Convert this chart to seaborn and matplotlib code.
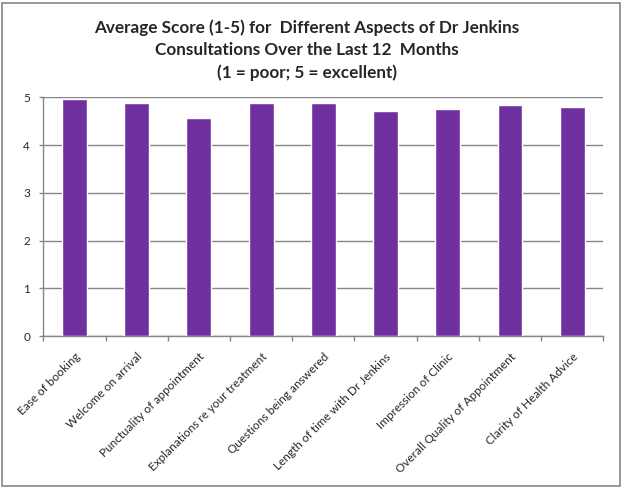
import matplotlib
matplotlib.use("Agg")
import matplotlib.pyplot as plt
import matplotlib.transforms as mtransforms
import seaborn as sns
import pandas as pd
from matplotlib.patches import Rectangle

categories = ["Ease of booking", "Welcome on arrival", "Punctuality of appointment",
              "Explanations re your treatment", "Questions being answered",
              "Length of time with Dr Jenkins", "Impression of Clinic",
              "Overall Quality of Appointment", "Clarity of Health Advice"]
scores = [4.96, 4.88, 4.57, 4.88, 4.88, 4.71, 4.76, 4.84, 4.80]
yticks = [0, 1, 2, 3, 4, 5]
title_lines = ["Average Score (1-5) for  Different Aspects of Dr Jenkins",
               "Consultations Over the Last 12  Months",
               "(1 = poor; 5 = excellent)"]

sns.set_style("white")
plt.rcParams['font.family'] = ['Lato', 'DejaVu Sans']

W, H = 621, 488
df = pd.DataFrame({"cat": categories, "score": scores})
fig = plt.figure(figsize=(W / 100, H / 100), dpi=100)
ax = fig.add_axes([43.3 / W, 1 - 336.3 / H, (603.3 - 43.3) / W, (336.3 - 97.3) / H])
sns.barplot(data=df, x="cat", y="score", color="#7030A0", width=0.4,
            saturation=1, ax=ax, zorder=3)
ax.set_ylim(0, 5)
ax.set_xlim(-0.5, len(categories) - 0.5)
ax.set_yticks(yticks)
ax.set_yticklabels([str(t) for t in yticks], fontsize=8.5)
ax.yaxis.grid(True, color="#868686", linewidth=1, zorder=0)
ax.set_axisbelow(True)
ax.set_xlabel("")
ax.set_ylabel("")
ax.set_xticks(range(len(categories)))
ax.set_xticklabels(categories, rotation=45, ha="right", va="top",
                   rotation_mode="anchor", fontsize=8.5)
offset = mtransforms.ScaledTranslation(4 / 100, 0, fig.dpi_scale_trans)
for lbl in ax.get_xticklabels():
    lbl.set_transform(lbl.get_transform() + offset)
ax.tick_params(axis="x", which="major", length=0, pad=10.5)
ax.set_xticks([i - 0.5 for i in range(len(categories) + 1)], minor=True)
ax.tick_params(axis="x", which="minor", length=3.5, color="#868686", width=1, bottom=True)
ax.tick_params(axis="y", length=3, color="#868686", width=1, pad=6.5, left=True)
for side in ["top", "right"]:
    ax.spines[side].set_visible(False)
for side in ["left", "bottom"]:
    ax.spines[side].set_color("#868686")
    ax.spines[side].set_linewidth(1)

for i, line in enumerate(title_lines):
    fig.text(307 / W, 1 - (32.7 + 22.5 * i) / H, line, ha="center", va="baseline",
             fontsize=12.3, fontweight="bold")
fig.patches.append(Rectangle((1.5 / W, 2.5 / H), 618 / W, 483 / H, transform=fig.transFigure,
                             fill=False, edgecolor="#868686", linewidth=1.2))
fig.savefig("out.png", dpi=100)
